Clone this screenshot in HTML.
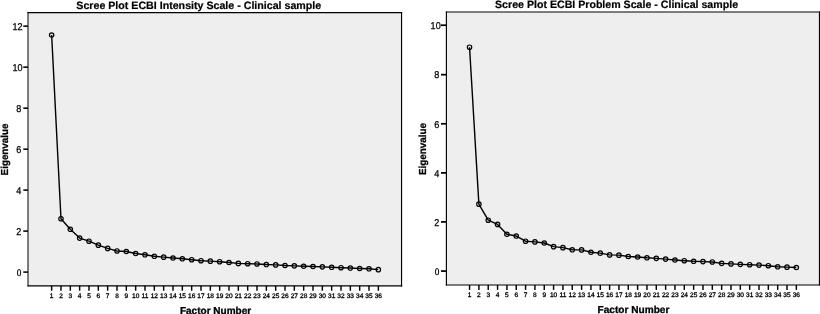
<!DOCTYPE html>
<html><head><meta charset="utf-8"><title>Scree plots</title>
<style>
html,body{margin:0;padding:0;background:#fff;}
svg{display:block;}
text{font-family:"Liberation Sans",Arial,sans-serif;fill:#000;text-rendering:geometricPrecision;}
.ti{font-size:10.65px;font-weight:bold;stroke:#000;stroke-width:0.2px;}
.ax{font-size:10.15px;font-weight:bold;stroke:#000;stroke-width:0.3px;}
.yt{font-size:9.9px;stroke:#000;stroke-width:0.25px;}
.z{font-family:"Liberation Serif","Times New Roman",serif;font-size:10.0px;}
.xt{font-size:6.55px;stroke:#000;stroke-width:0.3px;}
</style></head><body>
<svg width="820" height="314" viewBox="0 0 820 314">
<rect width="820" height="314" fill="#fff"/>
<rect x="28.0" y="12.62" width="373.55" height="273.23" fill="#eeeeee"/>
<g stroke="#000">
<line x1="27.500" y1="12.62" x2="402.125" y2="12.62" stroke-width="1.25"/>
<line x1="27.500" y1="285.85" x2="402.125" y2="285.85" stroke-width="1.2"/>
<line x1="28.0" y1="11.995" x2="28.0" y2="286.450" stroke-width="1.0"/>
<line x1="401.55" y1="11.995" x2="401.55" y2="286.450" stroke-width="1.15"/>
</g>
<line x1="23.3" y1="26.16" x2="28.0" y2="26.16" stroke="#000" stroke-width="1.55"/>
<text transform="translate(22.6,29.91) scale(0.92,1)" text-anchor="end" class="yt">12</text>
<line x1="23.3" y1="67.15" x2="28.0" y2="67.15" stroke="#000" stroke-width="1.55"/>
<text transform="translate(22.6,70.90) scale(0.92,1)" text-anchor="end" class="yt">10</text>
<line x1="23.3" y1="108.2" x2="28.0" y2="108.2" stroke="#000" stroke-width="1.55"/>
<text transform="translate(21.4,111.95) scale(0.92,1)" text-anchor="end" class="yt">8</text>
<line x1="23.3" y1="149.15" x2="28.0" y2="149.15" stroke="#000" stroke-width="1.55"/>
<text transform="translate(21.4,152.90) scale(0.92,1)" text-anchor="end" class="yt">6</text>
<line x1="23.3" y1="190.1" x2="28.0" y2="190.1" stroke="#000" stroke-width="1.55"/>
<text transform="translate(21.4,193.85) scale(0.92,1)" text-anchor="end" class="yt">4</text>
<line x1="23.3" y1="231.1" x2="28.0" y2="231.1" stroke="#000" stroke-width="1.55"/>
<text transform="translate(21.4,234.85) scale(0.92,1)" text-anchor="end" class="yt">2</text>
<line x1="23.3" y1="272.1" x2="28.0" y2="272.1" stroke="#000" stroke-width="1.55"/>
<text transform="translate(21.4,275.85) scale(0.92,1)" text-anchor="end" class="yt z">0</text>
<line x1="51.65" y1="285.85" x2="51.65" y2="290.75" stroke="#000" stroke-width="1.45"/>
<text x="51.65" y="297.5" text-anchor="middle" class="xt">1</text>
<line x1="60.98" y1="285.85" x2="60.98" y2="290.75" stroke="#000" stroke-width="1.45"/>
<text x="60.98" y="297.5" text-anchor="middle" class="xt">2</text>
<line x1="70.32" y1="285.85" x2="70.32" y2="290.75" stroke="#000" stroke-width="1.45"/>
<text x="70.32" y="297.5" text-anchor="middle" class="xt">3</text>
<line x1="79.65" y1="285.85" x2="79.65" y2="290.75" stroke="#000" stroke-width="1.45"/>
<text x="79.65" y="297.5" text-anchor="middle" class="xt">4</text>
<line x1="88.99" y1="285.85" x2="88.99" y2="290.75" stroke="#000" stroke-width="1.45"/>
<text x="88.99" y="297.5" text-anchor="middle" class="xt">5</text>
<line x1="98.32" y1="285.85" x2="98.32" y2="290.75" stroke="#000" stroke-width="1.45"/>
<text x="98.32" y="297.5" text-anchor="middle" class="xt">6</text>
<line x1="107.65" y1="285.85" x2="107.65" y2="290.75" stroke="#000" stroke-width="1.45"/>
<text x="107.65" y="297.5" text-anchor="middle" class="xt">7</text>
<line x1="116.99" y1="285.85" x2="116.99" y2="290.75" stroke="#000" stroke-width="1.45"/>
<text x="116.99" y="297.5" text-anchor="middle" class="xt">8</text>
<line x1="126.32" y1="285.85" x2="126.32" y2="290.75" stroke="#000" stroke-width="1.45"/>
<text x="126.32" y="297.5" text-anchor="middle" class="xt">9</text>
<line x1="135.66" y1="285.85" x2="135.66" y2="290.75" stroke="#000" stroke-width="1.45"/>
<text x="135.66" y="297.5" text-anchor="middle" class="xt">10</text>
<line x1="144.99" y1="285.85" x2="144.99" y2="290.75" stroke="#000" stroke-width="1.45"/>
<text x="144.99" y="297.5" text-anchor="middle" class="xt">11</text>
<line x1="154.32" y1="285.85" x2="154.32" y2="290.75" stroke="#000" stroke-width="1.45"/>
<text x="154.32" y="297.5" text-anchor="middle" class="xt">12</text>
<line x1="163.66" y1="285.85" x2="163.66" y2="290.75" stroke="#000" stroke-width="1.45"/>
<text x="163.66" y="297.5" text-anchor="middle" class="xt">13</text>
<line x1="172.99" y1="285.85" x2="172.99" y2="290.75" stroke="#000" stroke-width="1.45"/>
<text x="172.99" y="297.5" text-anchor="middle" class="xt">14</text>
<line x1="182.33" y1="285.85" x2="182.33" y2="290.75" stroke="#000" stroke-width="1.45"/>
<text x="182.33" y="297.5" text-anchor="middle" class="xt">15</text>
<line x1="191.66" y1="285.85" x2="191.66" y2="290.75" stroke="#000" stroke-width="1.45"/>
<text x="191.66" y="297.5" text-anchor="middle" class="xt">16</text>
<line x1="200.99" y1="285.85" x2="200.99" y2="290.75" stroke="#000" stroke-width="1.45"/>
<text x="200.99" y="297.5" text-anchor="middle" class="xt">17</text>
<line x1="210.33" y1="285.85" x2="210.33" y2="290.75" stroke="#000" stroke-width="1.45"/>
<text x="210.33" y="297.5" text-anchor="middle" class="xt">18</text>
<line x1="219.66" y1="285.85" x2="219.66" y2="290.75" stroke="#000" stroke-width="1.45"/>
<text x="219.66" y="297.5" text-anchor="middle" class="xt">19</text>
<line x1="229.00" y1="285.85" x2="229.00" y2="290.75" stroke="#000" stroke-width="1.45"/>
<text x="229.00" y="297.5" text-anchor="middle" class="xt">20</text>
<line x1="238.33" y1="285.85" x2="238.33" y2="290.75" stroke="#000" stroke-width="1.45"/>
<text x="238.33" y="297.5" text-anchor="middle" class="xt">21</text>
<line x1="247.66" y1="285.85" x2="247.66" y2="290.75" stroke="#000" stroke-width="1.45"/>
<text x="247.66" y="297.5" text-anchor="middle" class="xt">22</text>
<line x1="257.00" y1="285.85" x2="257.00" y2="290.75" stroke="#000" stroke-width="1.45"/>
<text x="257.00" y="297.5" text-anchor="middle" class="xt">23</text>
<line x1="266.33" y1="285.85" x2="266.33" y2="290.75" stroke="#000" stroke-width="1.45"/>
<text x="266.33" y="297.5" text-anchor="middle" class="xt">24</text>
<line x1="275.67" y1="285.85" x2="275.67" y2="290.75" stroke="#000" stroke-width="1.45"/>
<text x="275.67" y="297.5" text-anchor="middle" class="xt">25</text>
<line x1="285.00" y1="285.85" x2="285.00" y2="290.75" stroke="#000" stroke-width="1.45"/>
<text x="285.00" y="297.5" text-anchor="middle" class="xt">26</text>
<line x1="294.33" y1="285.85" x2="294.33" y2="290.75" stroke="#000" stroke-width="1.45"/>
<text x="294.33" y="297.5" text-anchor="middle" class="xt">27</text>
<line x1="303.67" y1="285.85" x2="303.67" y2="290.75" stroke="#000" stroke-width="1.45"/>
<text x="303.67" y="297.5" text-anchor="middle" class="xt">28</text>
<line x1="313.00" y1="285.85" x2="313.00" y2="290.75" stroke="#000" stroke-width="1.45"/>
<text x="313.00" y="297.5" text-anchor="middle" class="xt">29</text>
<line x1="322.34" y1="285.85" x2="322.34" y2="290.75" stroke="#000" stroke-width="1.45"/>
<text x="322.34" y="297.5" text-anchor="middle" class="xt">30</text>
<line x1="331.67" y1="285.85" x2="331.67" y2="290.75" stroke="#000" stroke-width="1.45"/>
<text x="331.67" y="297.5" text-anchor="middle" class="xt">31</text>
<line x1="341.00" y1="285.85" x2="341.00" y2="290.75" stroke="#000" stroke-width="1.45"/>
<text x="341.00" y="297.5" text-anchor="middle" class="xt">32</text>
<line x1="350.34" y1="285.85" x2="350.34" y2="290.75" stroke="#000" stroke-width="1.45"/>
<text x="350.34" y="297.5" text-anchor="middle" class="xt">33</text>
<line x1="359.67" y1="285.85" x2="359.67" y2="290.75" stroke="#000" stroke-width="1.45"/>
<text x="359.67" y="297.5" text-anchor="middle" class="xt">34</text>
<line x1="369.01" y1="285.85" x2="369.01" y2="290.75" stroke="#000" stroke-width="1.45"/>
<text x="369.01" y="297.5" text-anchor="middle" class="xt">35</text>
<line x1="378.34" y1="285.85" x2="378.34" y2="290.75" stroke="#000" stroke-width="1.45"/>
<text x="378.34" y="297.5" text-anchor="middle" class="xt">36</text>
<polyline points="51.65,35.0 60.98,218.7 70.32,229.3 79.65,238.1 88.99,241.2 98.32,245.15 107.65,248.4 116.99,250.95 126.32,251.5 135.66,253.55 144.99,254.8 154.32,256.3 163.66,257.15 172.99,258.0 182.33,258.8 191.66,259.7 200.99,260.7 210.33,261.15 219.66,261.7 229.00,262.5 238.33,263.4 247.66,263.7 257.00,263.95 266.33,264.55 275.67,264.9 285.00,265.5 294.33,265.85 303.67,266.25 313.00,266.5 322.34,266.85 331.67,267.3 341.00,267.7 350.34,268.05 359.67,268.5 369.01,268.8 378.34,269.65" fill="none" stroke="#000" stroke-width="1.4" stroke-linejoin="round"/>
<circle cx="51.65" cy="35.0" r="2.2" fill="none" stroke="#000" stroke-width="1.2"/>
<circle cx="60.98" cy="218.7" r="2.2" fill="none" stroke="#000" stroke-width="1.2"/>
<circle cx="70.32" cy="229.3" r="2.2" fill="none" stroke="#000" stroke-width="1.2"/>
<circle cx="79.65" cy="238.1" r="2.2" fill="none" stroke="#000" stroke-width="1.2"/>
<circle cx="88.99" cy="241.2" r="2.2" fill="none" stroke="#000" stroke-width="1.2"/>
<circle cx="98.32" cy="245.15" r="2.2" fill="none" stroke="#000" stroke-width="1.2"/>
<circle cx="107.65" cy="248.4" r="2.2" fill="none" stroke="#000" stroke-width="1.2"/>
<circle cx="116.99" cy="250.95" r="2.2" fill="none" stroke="#000" stroke-width="1.2"/>
<circle cx="126.32" cy="251.5" r="2.2" fill="none" stroke="#000" stroke-width="1.2"/>
<circle cx="135.66" cy="253.55" r="2.2" fill="none" stroke="#000" stroke-width="1.2"/>
<circle cx="144.99" cy="254.8" r="2.2" fill="none" stroke="#000" stroke-width="1.2"/>
<circle cx="154.32" cy="256.3" r="2.2" fill="none" stroke="#000" stroke-width="1.2"/>
<circle cx="163.66" cy="257.15" r="2.2" fill="none" stroke="#000" stroke-width="1.2"/>
<circle cx="172.99" cy="258.0" r="2.2" fill="none" stroke="#000" stroke-width="1.2"/>
<circle cx="182.33" cy="258.8" r="2.2" fill="none" stroke="#000" stroke-width="1.2"/>
<circle cx="191.66" cy="259.7" r="2.2" fill="none" stroke="#000" stroke-width="1.2"/>
<circle cx="200.99" cy="260.7" r="2.2" fill="none" stroke="#000" stroke-width="1.2"/>
<circle cx="210.33" cy="261.15" r="2.2" fill="none" stroke="#000" stroke-width="1.2"/>
<circle cx="219.66" cy="261.7" r="2.2" fill="none" stroke="#000" stroke-width="1.2"/>
<circle cx="229.00" cy="262.5" r="2.2" fill="none" stroke="#000" stroke-width="1.2"/>
<circle cx="238.33" cy="263.4" r="2.2" fill="none" stroke="#000" stroke-width="1.2"/>
<circle cx="247.66" cy="263.7" r="2.2" fill="none" stroke="#000" stroke-width="1.2"/>
<circle cx="257.00" cy="263.95" r="2.2" fill="none" stroke="#000" stroke-width="1.2"/>
<circle cx="266.33" cy="264.55" r="2.2" fill="none" stroke="#000" stroke-width="1.2"/>
<circle cx="275.67" cy="264.9" r="2.2" fill="none" stroke="#000" stroke-width="1.2"/>
<circle cx="285.00" cy="265.5" r="2.2" fill="none" stroke="#000" stroke-width="1.2"/>
<circle cx="294.33" cy="265.85" r="2.2" fill="none" stroke="#000" stroke-width="1.2"/>
<circle cx="303.67" cy="266.25" r="2.2" fill="none" stroke="#000" stroke-width="1.2"/>
<circle cx="313.00" cy="266.5" r="2.2" fill="none" stroke="#000" stroke-width="1.2"/>
<circle cx="322.34" cy="266.85" r="2.2" fill="none" stroke="#000" stroke-width="1.2"/>
<circle cx="331.67" cy="267.3" r="2.2" fill="none" stroke="#000" stroke-width="1.2"/>
<circle cx="341.00" cy="267.7" r="2.2" fill="none" stroke="#000" stroke-width="1.2"/>
<circle cx="350.34" cy="268.05" r="2.2" fill="none" stroke="#000" stroke-width="1.2"/>
<circle cx="359.67" cy="268.5" r="2.2" fill="none" stroke="#000" stroke-width="1.2"/>
<circle cx="369.01" cy="268.8" r="2.2" fill="none" stroke="#000" stroke-width="1.2"/>
<circle cx="378.34" cy="269.65" r="2.2" fill="none" stroke="#000" stroke-width="1.2"/>
<text x="76.3" y="8.8" class="ti" textLength="244.9" lengthAdjust="spacingAndGlyphs">Scree Plot ECBI Intensity Scale - Clinical sample</text>
<text x="179.9" y="313.8" class="ax" textLength="71.3" lengthAdjust="spacingAndGlyphs">Factor Number</text>
<text transform="translate(7.9,175.4) rotate(-90)" class="ax" textLength="51.90" lengthAdjust="spacingAndGlyphs">Eigenvalue</text>
<rect x="446.4" y="11.95" width="373.10" height="273.05" fill="#eeeeee"/>
<g stroke="#000">
<line x1="445.825" y1="11.95" x2="820.100" y2="11.95" stroke-width="1.1"/>
<line x1="445.825" y1="285.0" x2="820.100" y2="285.0" stroke-width="1.2"/>
<line x1="446.4" y1="11.400" x2="446.4" y2="285.600" stroke-width="1.15"/>
<line x1="819.5" y1="11.400" x2="819.5" y2="285.600" stroke-width="1.2"/>
</g>
<line x1="441.0" y1="25.24" x2="446.4" y2="25.24" stroke="#000" stroke-width="1.75"/>
<text transform="translate(440.7,28.99) scale(0.92,1)" text-anchor="end" class="yt">10</text>
<line x1="441.0" y1="74.67" x2="446.4" y2="74.67" stroke="#000" stroke-width="1.75"/>
<text transform="translate(439.4,78.42) scale(0.92,1)" text-anchor="end" class="yt">8</text>
<line x1="441.0" y1="123.78" x2="446.4" y2="123.78" stroke="#000" stroke-width="1.75"/>
<text transform="translate(439.4,127.53) scale(0.92,1)" text-anchor="end" class="yt">6</text>
<line x1="441.0" y1="172.9" x2="446.4" y2="172.9" stroke="#000" stroke-width="1.75"/>
<text transform="translate(439.4,176.65) scale(0.92,1)" text-anchor="end" class="yt">4</text>
<line x1="441.0" y1="221.9" x2="446.4" y2="221.9" stroke="#000" stroke-width="1.75"/>
<text transform="translate(439.4,225.65) scale(0.92,1)" text-anchor="end" class="yt">2</text>
<line x1="441.0" y1="271.06" x2="446.4" y2="271.06" stroke="#000" stroke-width="1.75"/>
<text transform="translate(439.4,274.81) scale(0.92,1)" text-anchor="end" class="yt z">0</text>
<line x1="469.55" y1="285.0" x2="469.55" y2="289.90" stroke="#000" stroke-width="1.45"/>
<text x="469.55" y="296.7" text-anchor="middle" class="xt">1</text>
<line x1="478.89" y1="285.0" x2="478.89" y2="289.90" stroke="#000" stroke-width="1.45"/>
<text x="478.89" y="296.7" text-anchor="middle" class="xt">2</text>
<line x1="488.22" y1="285.0" x2="488.22" y2="289.90" stroke="#000" stroke-width="1.45"/>
<text x="488.22" y="296.7" text-anchor="middle" class="xt">3</text>
<line x1="497.56" y1="285.0" x2="497.56" y2="289.90" stroke="#000" stroke-width="1.45"/>
<text x="497.56" y="296.7" text-anchor="middle" class="xt">4</text>
<line x1="506.90" y1="285.0" x2="506.90" y2="289.90" stroke="#000" stroke-width="1.45"/>
<text x="506.90" y="296.7" text-anchor="middle" class="xt">5</text>
<line x1="516.24" y1="285.0" x2="516.24" y2="289.90" stroke="#000" stroke-width="1.45"/>
<text x="516.24" y="296.7" text-anchor="middle" class="xt">6</text>
<line x1="525.57" y1="285.0" x2="525.57" y2="289.90" stroke="#000" stroke-width="1.45"/>
<text x="525.57" y="296.7" text-anchor="middle" class="xt">7</text>
<line x1="534.91" y1="285.0" x2="534.91" y2="289.90" stroke="#000" stroke-width="1.45"/>
<text x="534.91" y="296.7" text-anchor="middle" class="xt">8</text>
<line x1="544.25" y1="285.0" x2="544.25" y2="289.90" stroke="#000" stroke-width="1.45"/>
<text x="544.25" y="296.7" text-anchor="middle" class="xt">9</text>
<line x1="553.58" y1="285.0" x2="553.58" y2="289.90" stroke="#000" stroke-width="1.45"/>
<text x="553.58" y="296.7" text-anchor="middle" class="xt">10</text>
<line x1="562.92" y1="285.0" x2="562.92" y2="289.90" stroke="#000" stroke-width="1.45"/>
<text x="562.92" y="296.7" text-anchor="middle" class="xt">11</text>
<line x1="572.26" y1="285.0" x2="572.26" y2="289.90" stroke="#000" stroke-width="1.45"/>
<text x="572.26" y="296.7" text-anchor="middle" class="xt">12</text>
<line x1="581.59" y1="285.0" x2="581.59" y2="289.90" stroke="#000" stroke-width="1.45"/>
<text x="581.59" y="296.7" text-anchor="middle" class="xt">13</text>
<line x1="590.93" y1="285.0" x2="590.93" y2="289.90" stroke="#000" stroke-width="1.45"/>
<text x="590.93" y="296.7" text-anchor="middle" class="xt">14</text>
<line x1="600.27" y1="285.0" x2="600.27" y2="289.90" stroke="#000" stroke-width="1.45"/>
<text x="600.27" y="296.7" text-anchor="middle" class="xt">15</text>
<line x1="609.61" y1="285.0" x2="609.61" y2="289.90" stroke="#000" stroke-width="1.45"/>
<text x="609.61" y="296.7" text-anchor="middle" class="xt">16</text>
<line x1="618.94" y1="285.0" x2="618.94" y2="289.90" stroke="#000" stroke-width="1.45"/>
<text x="618.94" y="296.7" text-anchor="middle" class="xt">17</text>
<line x1="628.28" y1="285.0" x2="628.28" y2="289.90" stroke="#000" stroke-width="1.45"/>
<text x="628.28" y="296.7" text-anchor="middle" class="xt">18</text>
<line x1="637.62" y1="285.0" x2="637.62" y2="289.90" stroke="#000" stroke-width="1.45"/>
<text x="637.62" y="296.7" text-anchor="middle" class="xt">19</text>
<line x1="646.95" y1="285.0" x2="646.95" y2="289.90" stroke="#000" stroke-width="1.45"/>
<text x="646.95" y="296.7" text-anchor="middle" class="xt">20</text>
<line x1="656.29" y1="285.0" x2="656.29" y2="289.90" stroke="#000" stroke-width="1.45"/>
<text x="656.29" y="296.7" text-anchor="middle" class="xt">21</text>
<line x1="665.63" y1="285.0" x2="665.63" y2="289.90" stroke="#000" stroke-width="1.45"/>
<text x="665.63" y="296.7" text-anchor="middle" class="xt">22</text>
<line x1="674.96" y1="285.0" x2="674.96" y2="289.90" stroke="#000" stroke-width="1.45"/>
<text x="674.96" y="296.7" text-anchor="middle" class="xt">23</text>
<line x1="684.30" y1="285.0" x2="684.30" y2="289.90" stroke="#000" stroke-width="1.45"/>
<text x="684.30" y="296.7" text-anchor="middle" class="xt">24</text>
<line x1="693.64" y1="285.0" x2="693.64" y2="289.90" stroke="#000" stroke-width="1.45"/>
<text x="693.64" y="296.7" text-anchor="middle" class="xt">25</text>
<line x1="702.98" y1="285.0" x2="702.98" y2="289.90" stroke="#000" stroke-width="1.45"/>
<text x="702.98" y="296.7" text-anchor="middle" class="xt">26</text>
<line x1="712.31" y1="285.0" x2="712.31" y2="289.90" stroke="#000" stroke-width="1.45"/>
<text x="712.31" y="296.7" text-anchor="middle" class="xt">27</text>
<line x1="721.65" y1="285.0" x2="721.65" y2="289.90" stroke="#000" stroke-width="1.45"/>
<text x="721.65" y="296.7" text-anchor="middle" class="xt">28</text>
<line x1="730.99" y1="285.0" x2="730.99" y2="289.90" stroke="#000" stroke-width="1.45"/>
<text x="730.99" y="296.7" text-anchor="middle" class="xt">29</text>
<line x1="740.32" y1="285.0" x2="740.32" y2="289.90" stroke="#000" stroke-width="1.45"/>
<text x="740.32" y="296.7" text-anchor="middle" class="xt">30</text>
<line x1="749.66" y1="285.0" x2="749.66" y2="289.90" stroke="#000" stroke-width="1.45"/>
<text x="749.66" y="296.7" text-anchor="middle" class="xt">31</text>
<line x1="759.00" y1="285.0" x2="759.00" y2="289.90" stroke="#000" stroke-width="1.45"/>
<text x="759.00" y="296.7" text-anchor="middle" class="xt">32</text>
<line x1="768.33" y1="285.0" x2="768.33" y2="289.90" stroke="#000" stroke-width="1.45"/>
<text x="768.33" y="296.7" text-anchor="middle" class="xt">33</text>
<line x1="777.67" y1="285.0" x2="777.67" y2="289.90" stroke="#000" stroke-width="1.45"/>
<text x="777.67" y="296.7" text-anchor="middle" class="xt">34</text>
<line x1="787.01" y1="285.0" x2="787.01" y2="289.90" stroke="#000" stroke-width="1.45"/>
<text x="787.01" y="296.7" text-anchor="middle" class="xt">35</text>
<line x1="796.35" y1="285.0" x2="796.35" y2="289.90" stroke="#000" stroke-width="1.45"/>
<text x="796.35" y="296.7" text-anchor="middle" class="xt">36</text>
<polyline points="469.55,47.2 478.89,204.15 488.22,220.2 497.56,224.4 506.90,234.25 516.24,236.05 525.57,241.2 534.91,241.9 544.25,243.0 553.58,246.66 562.92,247.65 572.26,249.8 581.59,249.9 590.93,252.25 600.27,253.15 609.61,254.9 618.94,255.15 628.28,256.5 637.62,257.0 646.95,257.8 656.29,258.35 665.63,259.1 674.96,260.0 684.30,260.7 693.64,261.3 702.98,261.6 712.31,261.95 721.65,263.35 730.99,263.9 740.32,264.35 749.66,264.7 759.00,265.1 768.33,265.7 777.67,266.8 787.01,267.15 796.35,267.5" fill="none" stroke="#000" stroke-width="1.4" stroke-linejoin="round"/>
<circle cx="469.55" cy="47.2" r="2.2" fill="none" stroke="#000" stroke-width="1.2"/>
<circle cx="478.89" cy="204.15" r="2.2" fill="none" stroke="#000" stroke-width="1.2"/>
<circle cx="488.22" cy="220.2" r="2.2" fill="none" stroke="#000" stroke-width="1.2"/>
<circle cx="497.56" cy="224.4" r="2.2" fill="none" stroke="#000" stroke-width="1.2"/>
<circle cx="506.90" cy="234.25" r="2.2" fill="none" stroke="#000" stroke-width="1.2"/>
<circle cx="516.24" cy="236.05" r="2.2" fill="none" stroke="#000" stroke-width="1.2"/>
<circle cx="525.57" cy="241.2" r="2.2" fill="none" stroke="#000" stroke-width="1.2"/>
<circle cx="534.91" cy="241.9" r="2.2" fill="none" stroke="#000" stroke-width="1.2"/>
<circle cx="544.25" cy="243.0" r="2.2" fill="none" stroke="#000" stroke-width="1.2"/>
<circle cx="553.58" cy="246.66" r="2.2" fill="none" stroke="#000" stroke-width="1.2"/>
<circle cx="562.92" cy="247.65" r="2.2" fill="none" stroke="#000" stroke-width="1.2"/>
<circle cx="572.26" cy="249.8" r="2.2" fill="none" stroke="#000" stroke-width="1.2"/>
<circle cx="581.59" cy="249.9" r="2.2" fill="none" stroke="#000" stroke-width="1.2"/>
<circle cx="590.93" cy="252.25" r="2.2" fill="none" stroke="#000" stroke-width="1.2"/>
<circle cx="600.27" cy="253.15" r="2.2" fill="none" stroke="#000" stroke-width="1.2"/>
<circle cx="609.61" cy="254.9" r="2.2" fill="none" stroke="#000" stroke-width="1.2"/>
<circle cx="618.94" cy="255.15" r="2.2" fill="none" stroke="#000" stroke-width="1.2"/>
<circle cx="628.28" cy="256.5" r="2.2" fill="none" stroke="#000" stroke-width="1.2"/>
<circle cx="637.62" cy="257.0" r="2.2" fill="none" stroke="#000" stroke-width="1.2"/>
<circle cx="646.95" cy="257.8" r="2.2" fill="none" stroke="#000" stroke-width="1.2"/>
<circle cx="656.29" cy="258.35" r="2.2" fill="none" stroke="#000" stroke-width="1.2"/>
<circle cx="665.63" cy="259.1" r="2.2" fill="none" stroke="#000" stroke-width="1.2"/>
<circle cx="674.96" cy="260.0" r="2.2" fill="none" stroke="#000" stroke-width="1.2"/>
<circle cx="684.30" cy="260.7" r="2.2" fill="none" stroke="#000" stroke-width="1.2"/>
<circle cx="693.64" cy="261.3" r="2.2" fill="none" stroke="#000" stroke-width="1.2"/>
<circle cx="702.98" cy="261.6" r="2.2" fill="none" stroke="#000" stroke-width="1.2"/>
<circle cx="712.31" cy="261.95" r="2.2" fill="none" stroke="#000" stroke-width="1.2"/>
<circle cx="721.65" cy="263.35" r="2.2" fill="none" stroke="#000" stroke-width="1.2"/>
<circle cx="730.99" cy="263.9" r="2.2" fill="none" stroke="#000" stroke-width="1.2"/>
<circle cx="740.32" cy="264.35" r="2.2" fill="none" stroke="#000" stroke-width="1.2"/>
<circle cx="749.66" cy="264.7" r="2.2" fill="none" stroke="#000" stroke-width="1.2"/>
<circle cx="759.00" cy="265.1" r="2.2" fill="none" stroke="#000" stroke-width="1.2"/>
<circle cx="768.33" cy="265.7" r="2.2" fill="none" stroke="#000" stroke-width="1.2"/>
<circle cx="777.67" cy="266.8" r="2.2" fill="none" stroke="#000" stroke-width="1.2"/>
<circle cx="787.01" cy="267.15" r="2.2" fill="none" stroke="#000" stroke-width="1.2"/>
<circle cx="796.35" cy="267.5" r="2.2" fill="none" stroke="#000" stroke-width="1.2"/>
<text x="495.05" y="7.7" class="ti" textLength="243.0" lengthAdjust="spacingAndGlyphs">Scree Plot ECBI Problem Scale - Clinical sample</text>
<text x="597.55" y="313.0" class="ax" textLength="71.8" lengthAdjust="spacingAndGlyphs">Factor Number</text>
<text transform="translate(426.0,175.0) rotate(-90)" class="ax" textLength="51.90" lengthAdjust="spacingAndGlyphs">Eigenvalue</text>
</svg>
</body></html>
